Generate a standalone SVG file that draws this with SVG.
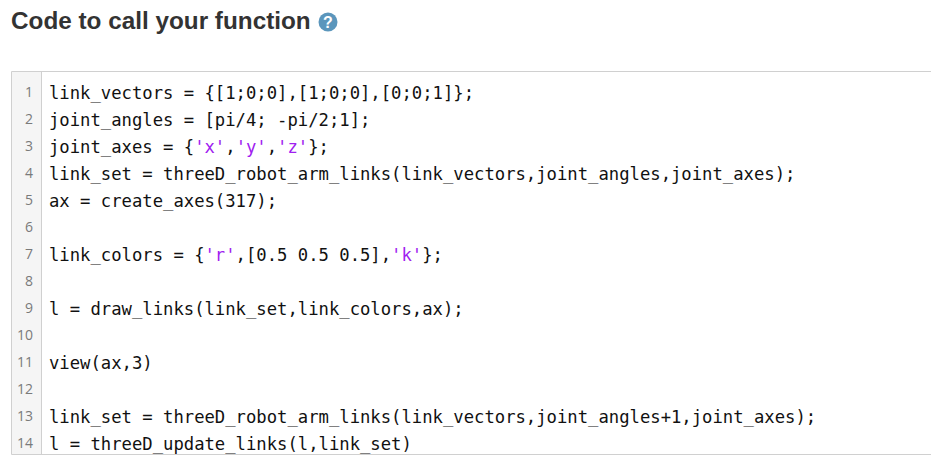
<svg xmlns="http://www.w3.org/2000/svg" width="931" height="469" viewBox="0 0 931 469">
<style>
.c{font-family:"DejaVu Sans Mono",monospace;font-size:17.23px;fill:#111;white-space:pre}
.n{font-family:"Open Sans",sans-serif;font-size:14px;fill:#7a7a7a;text-anchor:end}
.s{fill:#a020f0}
.t{font-family:"Liberation Sans",sans-serif;font-size:24.3px;font-weight:bold;fill:#333}
</style>
<rect width="931" height="469" fill="#fff"/>
<g id="heading">
<text class="t" x="11" y="29">Code to call your function</text>
<circle cx="328" cy="22" r="9.500" fill="#5b96bc"/>
<text x="328" y="27.800" text-anchor="middle" font-family="Liberation Sans,sans-serif" font-size="16" font-weight="bold" fill="#fff">?</text>
</g>
<g id="code-box">
<rect x="12" y="72" width="919" height="382" fill="#fff"/>
<rect x="12" y="72" width="29.500" height="382" fill="#f5f5f5"/>
<path d="M931 71.500H11.500V454.500H931M41.500 72V454" fill="none" stroke="#d0d0d0" stroke-width="1"/>
</g>
<g id="line-numbers">
<text class="n" x="33" y="97">1</text>
<text class="n" x="33" y="124">2</text>
<text class="n" x="33" y="151">3</text>
<text class="n" x="33" y="178">4</text>
<text class="n" x="33" y="205">5</text>
<text class="n" x="33" y="232">6</text>
<text class="n" x="33" y="259">7</text>
<text class="n" x="33" y="286">8</text>
<text class="n" x="33" y="313">9</text>
<text class="n" x="33" y="340">10</text>
<text class="n" x="33" y="367">11</text>
<text class="n" x="33" y="394">12</text>
<text class="n" x="33" y="421">13</text>
<text class="n" x="33" y="448">14</text>
</g>
<g id="code">
<text class="c" x="49" y="98.500">link_vectors = {[1;0;0],[1;0;0],[0;0;1]};</text>
<text class="c" x="49" y="125.500">joint_angles = [pi/4; -pi/2;1];</text>
<text class="c" x="49" y="152.500">joint_axes = {<tspan class="s">'x'</tspan>,<tspan class="s">'y'</tspan>,<tspan class="s">'z'</tspan>};</text>
<text class="c" x="49" y="179.500">link_set = threeD_robot_arm_links(link_vectors,joint_angles,joint_axes);</text>
<text class="c" x="49" y="206.500">ax = create_axes(317);</text>
<text class="c" x="49" y="260.500">link_colors = {<tspan class="s">'r'</tspan>,[0.5 0.5 0.5],<tspan class="s">'k'</tspan>};</text>
<text class="c" x="49" y="314.500">l = draw_links(link_set,link_colors,ax);</text>
<text class="c" x="49" y="368.500">view(ax,3)</text>
<text class="c" x="49" y="422.500">link_set = threeD_robot_arm_links(link_vectors,joint_angles+1,joint_axes);</text>
<text class="c" x="49" y="449.500">l = threeD_update_links(l,link_set)</text>
</g>
</svg>
